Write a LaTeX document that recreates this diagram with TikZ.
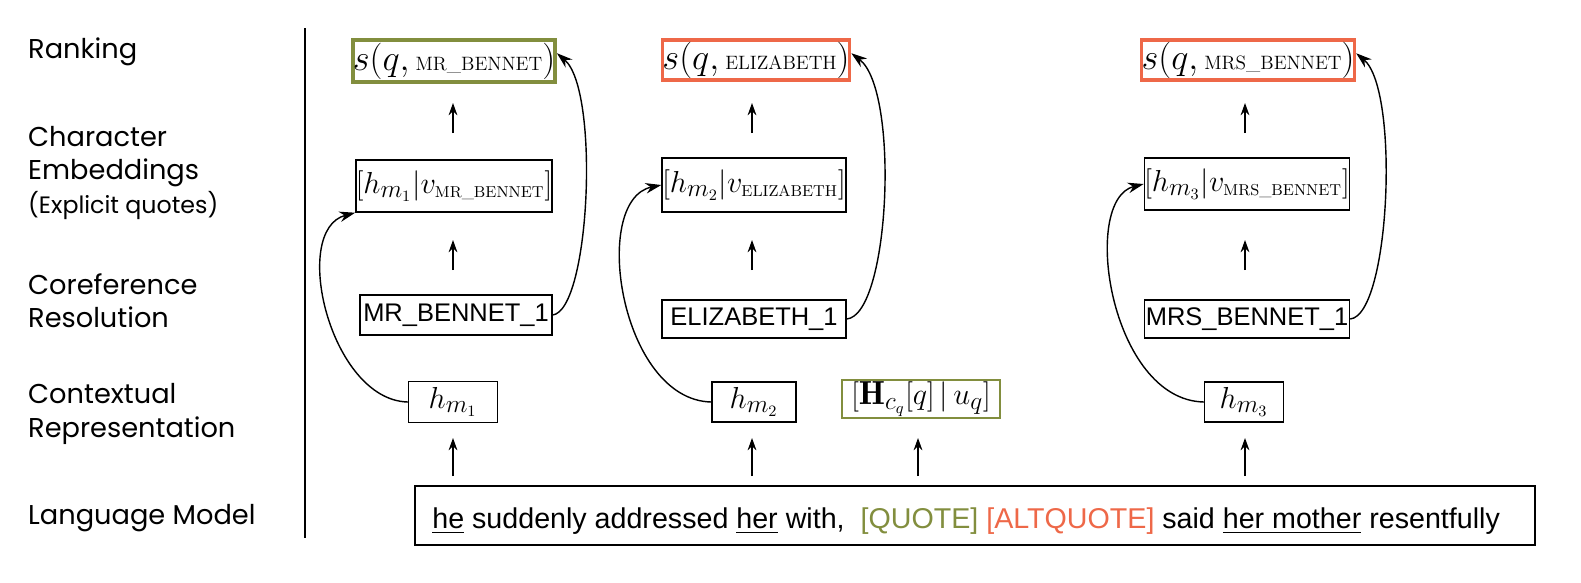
\documentclass[tikz,border=0pt]{standalone}
\usepackage{amsmath}
\usepackage{fontspec}
\newfontfamily\sanslab{Poppins}
\newfontfamily\arial{Liberation Sans}
\usetikzlibrary{arrows.meta,calc}
\definecolor{olive}{RGB}{130,142,62}
\definecolor{coral}{RGB}{238,104,72}
\newcommand{\sm}[1]{\text{\fontsize{11}{12}\selectfont #1}}
\newcommand{\smb}[1]{\text{\fontsize{9}{10}\selectfont #1}}
\begin{document}
\begin{tikzpicture}[x=0.02cm,y=-0.02cm,
  lab/.style={anchor=west,font=\sanslab\fontsize{15.5}{19}\selectfont,align=left},
  box/.style={draw,line width=0.8pt,inner sep=0pt,font=\fontsize{19}{21}\selectfont},
  sbox/.style={box,line width=2pt,font=\fontsize{20}{22}\selectfont},
  ar/.style={-{Stealth[length=7pt,width=5pt]},line width=0.8pt},
  cv/.style={-{Stealth[length=9pt,width=6pt]},line width=0.8pt}]
\useasboundingbox (0,0) rectangle (1581,582);
\node[lab] (l1) at (22,52) {Ranking};
\node[lab] (l2) at (22,173) {Character\\Embeddings\\{\fontsize{13.5}{15}\selectfont(Explicit quotes)}};
\node[lab] (l3) at (22,301) {Coreference\\Resolution};
\node[lab] (l4) at (22,414) {Contextual\\Representation};
\node[lab] (l5) at (22,518) {Language Model};
\draw[line width=1.6pt] (305,28) coordinate (va) -- (305,538) coordinate (vb);
% column 1
\node[sbox,draw=olive,minimum width=196*0.02cm,minimum height=42*0.02cm] (s1) at (454,61) {$s(q,\sm{MR\_BENNET})$};
\node[box,minimum width=188*0.02cm,minimum height=52*0.02cm] (e1) at (454,186) {$[h_{m_1}|v_{\smb{MR\_BENNET}}]$};
\node[box,font=\arial\fontsize{14.5}{16}\selectfont,minimum width=192*0.02cm,minimum height=40*0.02cm] (c1) at (456,315) {MR\_BENNET\_1};
\node[box,minimum width=89*0.02cm,minimum height=41*0.02cm] (h1) at (453,402) {$h_{m_1}$};
% column 2
\node[sbox,draw=coral,minimum width=182*0.02cm,minimum height=40*0.02cm] (s2) at (756,60) {$s(q,\sm{ELIZABETH})$};
\node[box,minimum width=184*0.02cm,minimum height=54*0.02cm] (e2) at (754,185) {$[h_{m_2}|v_{\smb{ELIZABETH}}]$};
\node[box,font=\arial\fontsize{14.5}{16}\selectfont,minimum width=184*0.02cm,minimum height=38*0.02cm] (c2) at (754,319) {ELIZABETH\_1};
\node[box,minimum width=84*0.02cm,minimum height=40*0.02cm] (h2) at (754,402) {$h_{m_2}$};
\node[box,draw=olive,minimum width=158*0.02cm,minimum height=38*0.02cm] (hq) at (921,399) {$[\mathbf{H}_{c_q}[q]\,|\,u_q]$};
% column 3
\node[sbox,draw=coral,minimum width=206*0.02cm,minimum height=40*0.02cm] (s3) at (1248,60) {$s(q,\sm{MRS\_BENNET})$};
\node[box,minimum width=205*0.02cm,minimum height=52*0.02cm] (e3) at (1247,184) {$[h_{m_3}|v_{\smb{MRS\_BENNET}}]$};
\node[box,font=\arial\fontsize{14.5}{16}\selectfont,minimum width=205*0.02cm,minimum height=38*0.02cm] (c3) at (1247,319) {MRS\_BENNET\_1};
\node[box,minimum width=79*0.02cm,minimum height=40*0.02cm] (h3) at (1244,402) {$h_{m_3}$};
% LM box
\node[box,minimum width=1120*0.02cm,minimum height=59*0.02cm] (lm) at (975,515.5) {};
\node[anchor=west,inner sep=0pt,font=\arial\fontsize{16.3}{18}\selectfont] (sent) at (432,521) {\underline{he} suddenly addressed \underline{her} with,\ \ \textcolor{olive}{[QUOTE]} \textcolor{coral}{[ALTQUOTE]} said \underline{her mother} resentfully};
% straight arrows
\foreach \x in {453,752,1245}{\draw[ar] (\x,270) -- (\x,240);}
\foreach \x in {453,752,1245}{\draw[ar] (\x,133) -- (\x,103);}
\foreach \x in {453,752,918,1245}{\draw[ar] (\x,476) -- (\x,438);}
% curves
\draw[cv] (h1.west) .. controls (330,400) and (290,230) .. (e1.south west);
\draw[cv] (c1.east) .. controls (590,310) and (600,90) .. ($(s1.north east)+(0,15)$);
\draw[cv] (h2.west) .. controls (620,400) and (590,200) .. (e2.west);
\draw[cv] (c2.east) .. controls (890,315) and (900,90) .. ($(s2.north east)+(0,15)$);
\draw[cv] (h3.west) .. controls (1110,400) and (1080,200) .. (e3.west);
\draw[cv] (c3.east) .. controls (1390,315) and (1400,90) .. ($(s3.north east)+(0,15)$);
\end{tikzpicture}
\end{document}
